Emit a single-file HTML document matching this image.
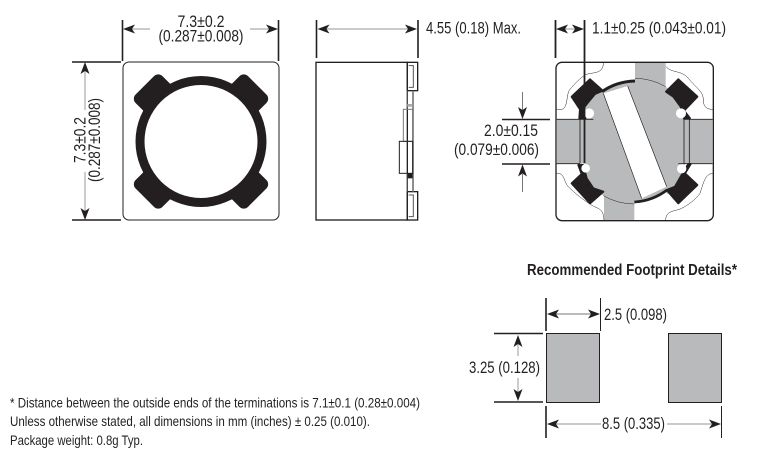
<!DOCTYPE html>
<html>
<head>
<meta charset="utf-8">
<style>
html,body{margin:0;padding:0;background:#fff}
svg{display:block}
text{font-family:"Liberation Sans",sans-serif;fill:#231f20;font-size:16.5px}
.n{font-size:14px}
</style>
</head>
<body>
<svg width="784" height="460" viewBox="0 0 784 460" xmlns="http://www.w3.org/2000/svg">
<defs><clipPath id="c"><rect x="133" y="0" width="300" height="520"/></clipPath></defs>

<!-- Left view -->
<rect x="123" y="62" width="156" height="158" rx="6" fill="#fff" stroke="#231f20" stroke-width="1"/>
<g fill="#231f20">
<rect x="182" y="62" width="38" height="26" rx="6" transform="rotate(-45 201 141.5)"/>
<rect x="182" y="62" width="38" height="26" rx="6" transform="rotate(45 201 141.5)"/>
<rect x="182" y="62" width="38" height="26" rx="6" transform="rotate(135 201 141.5)"/>
<rect x="182" y="62" width="38" height="26" rx="6" transform="rotate(225 201 141.5)"/>
<circle cx="201" cy="141.5" r="65.5"/>
</g>
<circle cx="201" cy="141.5" r="56.500" fill="#fff"/>
<g stroke="#231f20" stroke-width="1.6" fill="none">
<path d="M122.5 20V61M278.5 20V61M72 62H121M72 220H121"/>
</g>
<g stroke="#aaa" stroke-width="1.200" fill="none">
<path d="M125 29H150M250 29H276M85 64V110M85 172V218"/>
</g>
<g fill="#231f20">
<path d="M123 29l12-4.500-3 4.500 3 4.500z"/>
<path d="M278 29l-12-4.500 3 4.500-3 4.500z"/>
<path d="M85 62l-4.500 12 4.500-3 4.500 3z"/>
<path d="M85 220l-4.500-12 4.500 3 4.500-3z"/>
</g>
<text x="201" y="27" text-anchor="middle" textLength="47" lengthAdjust="spacingAndGlyphs">7.3±0.2</text>
<text x="201" y="41.5" text-anchor="middle" textLength="85" lengthAdjust="spacingAndGlyphs">(0.287±0.008)</text>
<text transform="translate(85.5 140) rotate(-90)" text-anchor="middle" textLength="46" lengthAdjust="spacingAndGlyphs">7.3±0.2</text>
<text transform="translate(100 140) rotate(-90)" text-anchor="middle" textLength="84" lengthAdjust="spacingAndGlyphs">(0.287±0.008)</text>

<!-- Middle view -->
<g transform="translate(300 0) scale(.33333)" fill="none" stroke="#231f20" stroke-width="3">
<rect x="48" y="187" width="274" height="473" stroke-width="4"/>
<rect x="322" y="187" width="31" height="85" stroke-width="4"/>
<rect x="322" y="575" width="31" height="85" stroke-width="4"/>
<path d="M326 197H340V262H326M326 650H340V585H326" stroke="#555"/>
<path d="M339 272V575" stroke="#777" stroke-width="5"/>
<path d="M322 272V328M322 520V575" stroke="#555"/>
<rect x="310" y="328" width="28" height="96" stroke="#777"/>
<rect x="298" y="424" width="40" height="96"/>
<rect x="322" y="520" width="16" height="15" fill="#231f20" stroke="none"/>
<rect x="322" y="312" width="16" height="8" fill="#aaa" stroke="none"/>
</g>
<g stroke="#231f20" stroke-width="1.6" fill="none">
<path d="M316.5 20V58M418 20V58"/>
</g>
<path d="M320 29H414" stroke="#aaa" stroke-width="1.200"/>
<path d="M317.5 29l12-4.500-3 4.500 3 4.500z" fill="#231f20"/>
<path d="M417 29l-12-4.500 3 4.500-3 4.500z" fill="#231f20"/>
<text x="426" y="33.5" textLength="95" lengthAdjust="spacingAndGlyphs">4.55 (0.18) Max.</text>

<!-- 2.0 dimension -->
<path d="M502 119.5H550M502 164H550" stroke="#231f20" stroke-width="1.6" fill="none"/>
<path d="M522.5 92V110M522.5 174V192" stroke="#777" stroke-width="1" fill="none"/>
<path d="M522.5 119l-4.500-12 4.500 3 4.500-3z" fill="#231f20"/>
<path d="M522.5 164.500l-4.500 12 4.500-3 4.500 3z" fill="#231f20"/>
<text x="484" y="136" textLength="54" lengthAdjust="spacingAndGlyphs">2.0±0.15</text>
<text x="454" y="155" textLength="85" lengthAdjust="spacingAndGlyphs">(0.079±0.006)</text>

<!-- Right view (coordinates in 3x zoomed space) -->
<g transform="translate(540 50) scale(.33333)">
<rect x="48" y="37" width="472" height="475" rx="18" fill="#fff" stroke="#231f20" stroke-width="4"/>
<g fill="#b9babc">
<rect x="285" y="39" width="92" height="70"/>
<rect x="192" y="440" width="91" height="70"/>
<rect x="50" y="208" width="90" height="133"/>
<rect x="430" y="208" width="88" height="133"/>
<circle cx="283" cy="273" r="188" clip-path="url(#c)"/>
</g>
<path d="M186 118A186 186 0 0 1 285 87M381 430A186 186 0 0 1 283 461" fill="none" stroke="#fff" stroke-width="14"/>
<path d="M190 130L263 108L380 410L305 445Z" fill="#fff"/>
<path d="M190 130L305 445M263 108L380 410" fill="none" stroke="#231f20" stroke-width="2"/>
<path d="M186 125A180 180 0 0 1 285 93" fill="none" stroke="#231f20" stroke-width="9"/>
<path d="M381 420A180 180 0 0 1 283 456" fill="none" stroke="#231f20" stroke-width="8"/>
<path d="M285 85A188 188 0 0 1 377 110M190 437A188 188 0 0 0 283 462" fill="none" stroke="#231f20" stroke-width="1.500"/>
<path d="M150 88L188 122L165 132L140 162L128 178L136 205L118 205L120 178L95 140Z" fill="#231f20" stroke="#231f20" stroke-width="6" stroke-linejoin="round"/>
<path d="M415 88L472 140L432 182L450 205L432 205L422 170L400 140L378 125Z" fill="#231f20" stroke="#231f20" stroke-width="6" stroke-linejoin="round"/>
<path d="M95 400L150 460L190 425L160 415L140 385L130 345L115 345L125 372Z" fill="#231f20" stroke="#231f20" stroke-width="6" stroke-linejoin="round"/>
<path d="M472 405L415 460L380 420L405 410L425 375L445 342L452 342L435 370Z" fill="#231f20" stroke="#231f20" stroke-width="6" stroke-linejoin="round"/>
<g fill="#fff">
<circle cx="147" cy="190" r="15"/>
<circle cx="423" cy="190" r="15"/>
<circle cx="137" cy="355" r="13"/>
<circle cx="425" cy="356" r="14"/>
</g>
<path d="M50 208H160M120 208V340M50 341H120M432 208V340M448 208V340M430 208H518M415 341H518" fill="none" stroke="#231f20" stroke-width="2.500"/>
<path d="M50 178H65C85 175 78 130 90 118C105 100 120 85 135 75C155 65 190 75 190 39M378 50C395 70 425 60 445 85C470 115 490 125 490 150C490 170 500 178 518 178M50 370C75 368 70 395 85 410C105 430 130 450 150 462C170 478 190 470 192 510M518 370C495 372 490 400 480 430C465 450 445 465 425 475C405 485 378 480 377 510" fill="none" stroke="#231f20" stroke-width="1.500"/>
</g>
<path d="M584.500 20V163" stroke="#231f20" stroke-width="1.800" fill="none"/>
<path d="M555.500 20V58" stroke="#231f20" stroke-width="1.800" fill="none"/>
<path d="M560 29H580" stroke="#aaa" stroke-width="1.200"/>
<path d="M556 29l12-4.500-3 4.500 3 4.500z" fill="#231f20"/>
<path d="M584 29l-12-4.500 3 4.500-3 4.500z" fill="#231f20"/>
<text x="592" y="33.500" textLength="134" lengthAdjust="spacingAndGlyphs">1.1±0.25 (0.043±0.01)</text>

<!-- Footprint -->
<text x="527" y="275" style="font-weight:bold;font-size:15.500px" textLength="210" lengthAdjust="spacingAndGlyphs">Recommended Footprint Details*</text>
<rect x="546.500" y="333.500" width="53" height="69" fill="#b9babc" stroke="#231f20" stroke-width="1"/>
<rect x="668.500" y="333.500" width="53" height="69" fill="#b9babc" stroke="#231f20" stroke-width="1"/>
<path d="M546 298V331M546 406V438M494 333.500H543M494 402H543" stroke="#231f20" stroke-width="1.600" fill="none"/>
<path d="M600.500 298V331M721.500 406V438" stroke="#231f20" stroke-width="1" fill="none"/>
<path d="M550 314H596" stroke="#777" stroke-width="1"/>
<path d="M550 424H601M667 424H718" stroke="#aaa" stroke-width="1.200"/>
<path d="M518 340V356M518 378V396" stroke="#aaa" stroke-width="1.200"/>
<g fill="#231f20">
<path d="M547 314l12-4.500-3 4.500 3 4.500z"/>
<path d="M600 314l-12-4.500 3 4.500-3 4.500z"/>
<path d="M547 424l12-4.500-3 4.500 3 4.500z"/>
<path d="M721 424l-12-4.500 3 4.500-3 4.500z"/>
<path d="M518 335l-4.500 12 4.500-3 4.500 3z"/>
<path d="M518 401l-4.500-12 4.500 3 4.500-3z"/>
</g>
<text x="604" y="320" textLength="63" lengthAdjust="spacingAndGlyphs">2.5 (0.098)</text>
<text x="469" y="373" textLength="71" lengthAdjust="spacingAndGlyphs">3.25 (0.128)</text>
<text x="602" y="429" textLength="63" lengthAdjust="spacingAndGlyphs">8.5 (0.335)</text>

<!-- Notes -->
<text class="n" x="10" y="407.500" textLength="410" lengthAdjust="spacingAndGlyphs">* Distance between the outside ends of the terminations is 7.1±0.1 (0.28±0.004)</text>
<text class="n" x="10" y="426" textLength="360" lengthAdjust="spacingAndGlyphs">Unless otherwise stated, all dimensions in mm (inches) ± 0.25 (0.010).</text>
<text class="n" x="10" y="445" textLength="133" lengthAdjust="spacingAndGlyphs">Package weight: 0.8g Typ.</text>
</svg>
</body>
</html>
